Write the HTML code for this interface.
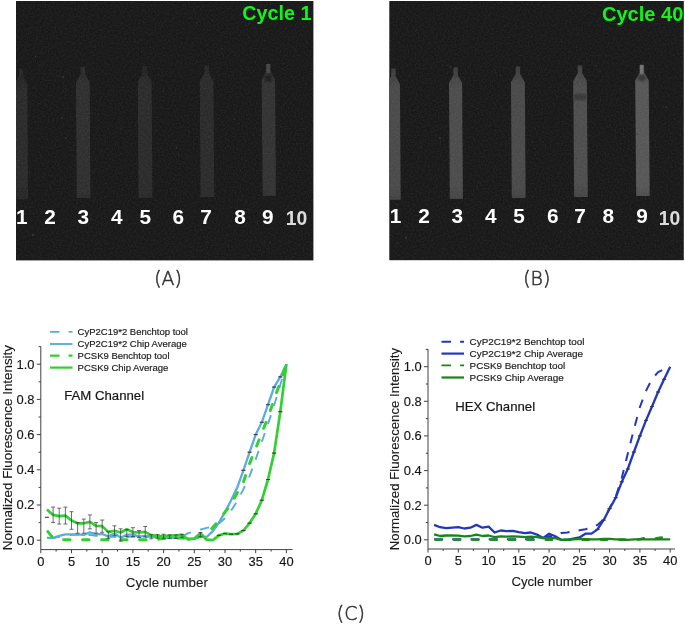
<!DOCTYPE html>
<html lang="en"><head><meta charset="utf-8"><title>Figure</title>
<style>
html,body{margin:0;padding:0;background:#fff;}
body{width:685px;height:625px;overflow:hidden;position:relative;font-family:"Liberation Sans",sans-serif;}
svg{position:absolute;left:0;top:0;display:block;}
text{font-family:"Liberation Sans",sans-serif;}
.num{font-weight:bold;font-size:20.8px;fill:#fff;}
.cyc{font-weight:bold;font-size:20.8px;fill:#12f41a;}
.cap{font-family:"DejaVu Sans Light","DejaVu Sans","Liberation Sans",sans-serif;font-weight:200;font-size:18.9px;fill:#333;stroke:#333;stroke-width:0.55px;stroke-linejoin:round;}
.tk{font-size:12.9px;fill:#161616;stroke:#161616;stroke-width:0.15px;}
.lg{fill:#1c1c1c;stroke:#1c1c1c;stroke-width:0.18px;}
.ax{fill:#1a1a1a;stroke:#1a1a1a;stroke-width:0.12px;}
.ch{font-size:13.2px;fill:#161616;stroke:#161616;stroke-width:0.2px;}
</style></head><body>
<svg width="685" height="625" viewBox="0 0 685 625">
<defs>
<filter id="b1" x="-20%" y="-5%" width="140%" height="110%"><feGaussianBlur stdDeviation="0.7"/></filter>
<filter id="b4" x="-20%" y="-50%" width="140%" height="200%"><feGaussianBlur stdDeviation="1.1"/></filter>
<filter id="nz" x="0" y="0" width="100%" height="100%"><feTurbulence type="fractalNoise" baseFrequency="0.6" numOctaves="2" seed="5"/><feColorMatrix type="matrix" values="0 0 0 0 1  0 0 0 0 1  0 0 0 0 1  0.085 0.085 0 0 -0.067"/><feGaussianBlur stdDeviation="0.4"/></filter>
<filter id="b2"><feGaussianBlur stdDeviation="0.45"/></filter>
<filter id="b3"><feGaussianBlur stdDeviation="0.35"/></filter>
</defs>
<g>
<rect x="16" y="1" width="297.4" height="259.4" fill="#181818"/>
<clipPath id="cp16"><rect x="16" y="1" width="297.4" height="259.4"/></clipPath>
<g clip-path="url(#cp16)">
<linearGradient id="tg1" gradientUnits="userSpaceOnUse" x1="0" y1="69" x2="0" y2="199.5"><stop offset="0" stop-color="#252525"/><stop offset="0.16" stop-color="#292929"/><stop offset="0.9" stop-color="#292929"/><stop offset="1" stop-color="#262626"/></linearGradient><polygon points="18.7,69.0 23.1,69.0 23.1,76.5 27.4,84.5 27.9,199.5 14.8,199.5 14.3,84.5 18.7,76.5" fill="url(#tg1)" filter="url(#b1)"/>
<linearGradient id="tg2" gradientUnits="userSpaceOnUse" x1="0" y1="66.8" x2="0" y2="198"><stop offset="0" stop-color="#292929"/><stop offset="0.16" stop-color="#2f2f2f"/><stop offset="0.9" stop-color="#2f2f2f"/><stop offset="1" stop-color="#2c2c2c"/></linearGradient><polygon points="80.6,66.8 85.0,66.8 85.0,74.3 89.6,82.3 90.4,198.0 76.8,198.0 76.0,82.3 80.6,74.3" fill="url(#tg2)" filter="url(#b1)"/>
<linearGradient id="tg3" gradientUnits="userSpaceOnUse" x1="0" y1="66.2" x2="0" y2="198"><stop offset="0" stop-color="#262626"/><stop offset="0.16" stop-color="#2b2b2b"/><stop offset="0.9" stop-color="#2b2b2b"/><stop offset="1" stop-color="#282828"/></linearGradient><polygon points="142.5,66.2 146.9,66.2 146.9,73.7 151.6,81.7 152.4,198.0 138.6,198.0 137.8,81.7 142.5,73.7" fill="url(#tg3)" filter="url(#b1)"/><ellipse cx="144.2" cy="72" rx="2.6" ry="2.4" fill="#222" filter="url(#b4)"/>
<linearGradient id="tg4" gradientUnits="userSpaceOnUse" x1="0" y1="65.5" x2="0" y2="197"><stop offset="0" stop-color="#272727"/><stop offset="0.16" stop-color="#2c2c2c"/><stop offset="0.9" stop-color="#2c2c2c"/><stop offset="1" stop-color="#292929"/></linearGradient><polygon points="204.4,65.5 208.8,65.5 208.8,73.0 213.3,81.0 214.2,197.0 200.7,197.0 199.8,81.0 204.4,73.0" fill="url(#tg4)" filter="url(#b1)"/>
<linearGradient id="tg5" gradientUnits="userSpaceOnUse" x1="0" y1="64" x2="0" y2="196"><stop offset="0" stop-color="#2c2c2c"/><stop offset="0.16" stop-color="#333333"/><stop offset="0.9" stop-color="#333333"/><stop offset="1" stop-color="#2f2f2f"/></linearGradient><polygon points="266.2,64.0 270.6,64.0 270.6,71.5 275.0,79.5 276.0,196.0 262.7,196.0 261.7,79.5 266.2,71.5" fill="url(#tg5)" filter="url(#b1)"/><rect x="266.4" y="64" width="3.6" height="9" fill="#444" filter="url(#b1)"/><ellipse cx="268.4" cy="78.0" rx="3.7" ry="3.7" fill="#1b1b1b" filter="url(#b4)"/>
<rect x="16" y="1" width="297.4" height="259.4" filter="url(#nz)"/>
<circle cx="112.9" cy="42.7" r="0.7" fill="#2c2c2c"/>
<circle cx="39.2" cy="139.0" r="0.6" fill="#3a3a3a"/>
<circle cx="35.0" cy="131.9" r="0.5" fill="#2c2c2c"/>
<circle cx="145.1" cy="22.5" r="0.5" fill="#3a3a3a"/>
<circle cx="142.4" cy="211.7" r="0.5" fill="#2c2c2c"/>
<circle cx="202.8" cy="150.7" r="0.5" fill="#3a3a3a"/>
<circle cx="189.6" cy="17.4" r="0.5" fill="#2c2c2c"/>
<circle cx="181.1" cy="38.3" r="0.6" fill="#2c2c2c"/>
<circle cx="176.4" cy="147.7" r="0.7" fill="#3a3a3a"/>
<circle cx="71.0" cy="150.4" r="0.7" fill="#2c2c2c"/>
<circle cx="127.1" cy="141.9" r="0.5" fill="#3a3a3a"/>
<circle cx="35.5" cy="56.5" r="0.7" fill="#3a3a3a"/>
<circle cx="143.3" cy="83.5" r="0.7" fill="#333"/>
<circle cx="123.9" cy="67.1" r="0.5" fill="#3a3a3a"/>
<circle cx="246.5" cy="25.5" r="0.6" fill="#3a3a3a"/>
<circle cx="163.1" cy="90.9" r="0.6" fill="#333"/>
<circle cx="196.4" cy="23.3" r="0.7" fill="#333"/>
<circle cx="66.3" cy="90.5" r="0.6" fill="#333"/>
<circle cx="29.5" cy="172.1" r="0.7" fill="#3a3a3a"/>
<circle cx="249.2" cy="209.6" r="0.6" fill="#3a3a3a"/>
<circle cx="120.6" cy="129.2" r="0.6" fill="#2c2c2c"/>
<circle cx="264.1" cy="241.2" r="0.6" fill="#3a3a3a"/>
<circle cx="212.6" cy="20.2" r="0.7" fill="#333"/>
<circle cx="207.6" cy="253.3" r="0.6" fill="#333"/>
<circle cx="228.0" cy="226.8" r="0.6" fill="#2c2c2c"/>
<circle cx="293.6" cy="93.9" r="0.7" fill="#2c2c2c"/>
<circle cx="162.7" cy="59.6" r="0.6" fill="#2c2c2c"/>
<circle cx="234.3" cy="104.5" r="0.6" fill="#2c2c2c"/>
<circle cx="66.7" cy="105.4" r="0.6" fill="#2c2c2c"/>
<circle cx="258.0" cy="221.0" r="0.6" fill="#3a3a3a"/>
<circle cx="139.7" cy="94.7" r="0.6" fill="#2c2c2c"/>
<circle cx="62.2" cy="49.1" r="0.5" fill="#3a3a3a"/>
<circle cx="86.4" cy="126.2" r="0.7" fill="#2c2c2c"/>
<circle cx="95.0" cy="6.0" r="0.6" fill="#3a3a3a"/>
<circle cx="126.2" cy="146.6" r="0.5" fill="#3a3a3a"/>
<circle cx="269.7" cy="242.6" r="0.7" fill="#3a3a3a"/>
<circle cx="234.8" cy="119.2" r="0.7" fill="#3a3a3a"/>
<circle cx="133.0" cy="104.7" r="0.5" fill="#333"/>
<circle cx="203.8" cy="20.6" r="0.5" fill="#2c2c2c"/>
<circle cx="147.1" cy="32.5" r="0.7" fill="#2c2c2c"/>
<circle cx="63.0" cy="77.0" r="0.8" fill="#444"/>
<circle cx="60.0" cy="76.5" r="0.6" fill="#3a3a3a"/>
<circle cx="57.0" cy="76.0" r="0.6" fill="#383838"/>
<circle cx="40.0" cy="65.0" r="0.6" fill="#3a3a3a"/>
<circle cx="62.0" cy="118.0" r="0.7" fill="#484848"/>
<circle cx="33.0" cy="235.0" r="0.8" fill="#555"/>
<circle cx="66.0" cy="138.0" r="0.7" fill="#444"/>
<circle cx="92.0" cy="113.0" r="0.6" fill="#444"/>
<circle cx="156.0" cy="130.0" r="0.6" fill="#3c3c3c"/>
</g>
<text class="num" x="21.8" y="224" text-anchor="middle">1</text>
<text class="num" x="50" y="224" text-anchor="middle">2</text>
<text class="num" x="83.3" y="224" text-anchor="middle">3</text>
<text class="num" x="116.8" y="224" text-anchor="middle">4</text>
<text class="num" x="145.2" y="224" text-anchor="middle">5</text>
<text class="num" x="178.3" y="224" text-anchor="middle">6</text>
<text class="num" x="206" y="224" text-anchor="middle">7</text>
<text class="num" x="240" y="224" text-anchor="middle">8</text>
<text class="num" x="267.8" y="224" text-anchor="middle">9</text>
<text class="num" x="296.6" y="224.8" text-anchor="middle" style="fill:#dcdcdc" textLength="21.5" lengthAdjust="spacingAndGlyphs">10</text>
<text class="cyc" transform="translate(311.5,19.6) scale(0.95,1)" text-anchor="end">Cycle 1</text>
</g>
<g>
<rect x="389.3" y="1" width="294.49999999999994" height="259.2" fill="#181818"/>
<clipPath id="cp389"><rect x="389.3" y="1" width="294.49999999999994" height="259.2"/></clipPath>
<g clip-path="url(#cp389)">
<linearGradient id="tg6" gradientUnits="userSpaceOnUse" x1="0" y1="68.5" x2="0" y2="199.7"><stop offset="0" stop-color="#3c3c3c"/><stop offset="0.16" stop-color="#494949"/><stop offset="0.9" stop-color="#494949"/><stop offset="1" stop-color="#424242"/></linearGradient><polygon points="391.2,68.5 395.6,68.5 395.6,76.0 399.9,84.0 400.7,199.7 387.6,199.7 386.8,84.0 391.2,76.0" fill="url(#tg6)" filter="url(#b1)"/>
<linearGradient id="tg7" gradientUnits="userSpaceOnUse" x1="0" y1="67.5" x2="0" y2="199"><stop offset="0" stop-color="#3d3d3d"/><stop offset="0.16" stop-color="#4b4b4b"/><stop offset="0.9" stop-color="#4b4b4b"/><stop offset="1" stop-color="#434343"/></linearGradient><polygon points="453.4,67.5 457.8,67.5 457.8,75.0 462.1,83.0 462.9,199.0 449.8,199.0 449.0,83.0 453.4,75.0" fill="url(#tg7)" filter="url(#b1)"/>
<linearGradient id="tg8" gradientUnits="userSpaceOnUse" x1="0" y1="66.5" x2="0" y2="198"><stop offset="0" stop-color="#3c3c3c"/><stop offset="0.16" stop-color="#4a4a4a"/><stop offset="0.9" stop-color="#4a4a4a"/><stop offset="1" stop-color="#424242"/></linearGradient><polygon points="515.7,66.5 520.1,66.5 520.1,74.0 524.8,82.0 525.6,198.0 511.8,198.0 511.0,82.0 515.7,74.0" fill="url(#tg8)" filter="url(#b1)"/>
<linearGradient id="tg9" gradientUnits="userSpaceOnUse" x1="0" y1="65.5" x2="0" y2="197"><stop offset="0" stop-color="#3f3f3f"/><stop offset="0.16" stop-color="#4d4d4d"/><stop offset="0.9" stop-color="#4d4d4d"/><stop offset="1" stop-color="#454545"/></linearGradient><polygon points="577.8,65.5 582.2,65.5 582.2,73.0 586.8,81.0 587.8,197.0 574.2,197.0 573.2,81.0 577.8,73.0" fill="url(#tg9)" filter="url(#b1)"/><rect x="574" y="94.2" width="12.6" height="5.6" fill="#363636" filter="url(#b4)"/>
<linearGradient id="tg10" gradientUnits="userSpaceOnUse" x1="0" y1="65" x2="0" y2="196"><stop offset="0" stop-color="#464646"/><stop offset="0.16" stop-color="#575757"/><stop offset="0.9" stop-color="#575757"/><stop offset="1" stop-color="#4e4e4e"/></linearGradient><polygon points="639.8,65.0 644.2,65.0 644.2,72.5 648.7,80.5 649.7,196.0 636.2,196.0 635.2,80.5 639.8,72.5" fill="url(#tg10)" filter="url(#b1)"/><rect x="639.8" y="64.8" width="3.6" height="9.5" fill="#727272" filter="url(#b1)"/><ellipse cx="641.9" cy="78" rx="3.5" ry="3.3" fill="#363636" filter="url(#b4)"/>
<rect x="389.3" y="1" width="294.49999999999994" height="259.2" filter="url(#nz)"/>
<circle cx="420.8" cy="146.7" r="0.7" fill="#2c2c2c"/>
<circle cx="667.1" cy="158.4" r="0.5" fill="#2c2c2c"/>
<circle cx="569.7" cy="42.1" r="0.6" fill="#333"/>
<circle cx="566.3" cy="123.5" r="0.5" fill="#333"/>
<circle cx="680.0" cy="121.5" r="0.6" fill="#333"/>
<circle cx="416.0" cy="30.5" r="0.6" fill="#3a3a3a"/>
<circle cx="468.0" cy="212.2" r="0.5" fill="#3a3a3a"/>
<circle cx="397.7" cy="242.7" r="0.7" fill="#333"/>
<circle cx="433.7" cy="140.8" r="0.5" fill="#3a3a3a"/>
<circle cx="477.7" cy="165.7" r="0.5" fill="#3a3a3a"/>
<circle cx="637.0" cy="134.6" r="0.5" fill="#333"/>
<circle cx="615.6" cy="138.1" r="0.7" fill="#333"/>
<circle cx="576.2" cy="158.3" r="0.5" fill="#2c2c2c"/>
<circle cx="629.1" cy="190.0" r="0.5" fill="#2c2c2c"/>
<circle cx="541.6" cy="93.9" r="0.5" fill="#2c2c2c"/>
<circle cx="620.9" cy="123.1" r="0.5" fill="#3a3a3a"/>
<circle cx="567.1" cy="91.1" r="0.7" fill="#333"/>
<circle cx="668.9" cy="96.2" r="0.5" fill="#2c2c2c"/>
<circle cx="457.0" cy="54.2" r="0.5" fill="#333"/>
<circle cx="572.6" cy="230.1" r="0.5" fill="#333"/>
<circle cx="655.6" cy="91.0" r="0.7" fill="#2c2c2c"/>
<circle cx="633.9" cy="35.0" r="0.6" fill="#3a3a3a"/>
<circle cx="609.3" cy="124.5" r="0.5" fill="#333"/>
<circle cx="620.6" cy="88.1" r="0.7" fill="#333"/>
<circle cx="525.8" cy="190.8" r="0.5" fill="#3a3a3a"/>
<circle cx="437.2" cy="253.3" r="0.5" fill="#2c2c2c"/>
<circle cx="562.9" cy="121.3" r="0.7" fill="#2c2c2c"/>
<circle cx="569.0" cy="154.0" r="0.6" fill="#3a3a3a"/>
<circle cx="663.8" cy="44.0" r="0.7" fill="#2c2c2c"/>
<circle cx="397.2" cy="204.8" r="0.7" fill="#3a3a3a"/>
<circle cx="420.9" cy="192.4" r="0.5" fill="#333"/>
<circle cx="678.1" cy="53.7" r="0.5" fill="#2c2c2c"/>
<circle cx="464.3" cy="78.2" r="0.5" fill="#3a3a3a"/>
<circle cx="485.9" cy="141.1" r="0.5" fill="#2c2c2c"/>
<circle cx="655.8" cy="93.4" r="0.6" fill="#3a3a3a"/>
<circle cx="560.8" cy="231.1" r="0.6" fill="#3a3a3a"/>
<circle cx="429.1" cy="43.0" r="0.7" fill="#2c2c2c"/>
<circle cx="645.0" cy="199.1" r="0.7" fill="#2c2c2c"/>
<circle cx="616.8" cy="42.5" r="0.5" fill="#333"/>
<circle cx="571.2" cy="35.1" r="0.5" fill="#333"/>
<circle cx="450.5" cy="67.0" r="0.8" fill="#484848"/>
<circle cx="447.0" cy="65.0" r="0.6" fill="#3c3c3c"/>
<circle cx="440.0" cy="138.0" r="0.8" fill="#4a4a4a"/>
<circle cx="406.0" cy="238.0" r="0.8" fill="#505050"/>
<circle cx="596.0" cy="66.0" r="0.6" fill="#444"/>
<circle cx="600.0" cy="71.0" r="0.6" fill="#444"/>
<circle cx="666.0" cy="107.0" r="0.7" fill="#444"/>
</g>
<text class="num" x="395.5" y="223.4" text-anchor="middle">1</text>
<text class="num" x="424" y="223.4" text-anchor="middle">2</text>
<text class="num" x="457.3" y="223.4" text-anchor="middle">3</text>
<text class="num" x="490.8" y="223.4" text-anchor="middle">4</text>
<text class="num" x="519" y="223.4" text-anchor="middle">5</text>
<text class="num" x="552.8" y="223.4" text-anchor="middle">6</text>
<text class="num" x="580" y="223.4" text-anchor="middle">7</text>
<text class="num" x="608.4" y="223.4" text-anchor="middle">8</text>
<text class="num" x="642" y="223.4" text-anchor="middle">9</text>
<text class="num" x="669.5" y="224.8" text-anchor="middle" style="fill:#dcdcdc" textLength="21.5" lengthAdjust="spacingAndGlyphs">10</text>
<text class="cyc" transform="translate(683.3,21.4) scale(0.965,1)" text-anchor="end">Cycle 40</text>
</g>
<text class="cap" x="168" y="284.7" text-anchor="middle">(A)</text>
<text class="cap" x="536.8" y="284.7" text-anchor="middle">(B)</text>
<text class="cap" x="350.8" y="619.9" text-anchor="middle">(C)</text>
<g>
<g filter="url(#b3)">
<polyline points="46.9,538.1 53.1,538.1 59.2,536.7 65.4,535.8 71.5,534.9 77.6,534.9 83.8,535.3 89.9,534.9 96.1,535.8 102.2,535.8 108.3,536.7 114.5,536.7 120.6,536.7 126.8,536.7 132.9,536.7 139.0,536.7 145.2,536.7 151.3,536.7 157.5,537.0 163.6,537.6 169.7,538.1 175.9,537.6 182.0,536.7 188.2,533.2 194.3,531.4 200.4,529.6 206.6,527.9 212.7,526.6 218.9,523.5 225.0,518.2 231.1,510.6 237.3,501.0 243.4,489.2 249.6,476.1 255.7,459.2 261.8,441.6 268.0,424.0 274.1,405.6 280.3,384.8 286.4,364.2" fill="none" stroke="#5aabde" stroke-width="1.9" stroke-linejoin="round" stroke-dasharray="9.3 9.6" stroke-dashoffset="-4"/>
<polyline points="46.9,537.9 53.1,537.9 59.2,535.8 65.4,534.4 71.5,534.4 77.6,534.4 83.8,534.9 89.9,532.3 96.1,534.4 102.2,534.0 108.3,536.3 114.5,533.5 120.6,537.6 126.8,534.9 132.9,534.4 139.0,536.7 145.2,535.8 151.3,536.7 157.5,537.6 163.6,537.0 169.7,538.1 175.9,537.6 182.0,538.1 188.2,538.4 194.3,538.8 200.4,536.7 206.6,537.0 212.7,531.4 218.9,522.6 225.0,512.2 231.1,500.2 237.3,487.4 243.4,470.3 249.6,452.2 255.7,434.6 261.8,422.3 268.0,404.7 274.1,387.1 280.3,376.9 286.4,364.2" fill="none" stroke="#5aabde" stroke-width="2.3" stroke-linejoin="round"/>
<polyline points="46.9,530.5 53.1,538.1 59.2,539.5 65.4,539.7 71.5,539.7 77.6,539.7 83.8,539.7 89.9,539.7 96.1,539.7 102.2,539.7 108.3,539.7 114.5,539.7 120.6,539.7 126.8,539.7 132.9,539.7 139.0,539.7 145.2,539.7 151.3,539.8 157.5,539.3 163.6,538.4 169.7,538.1 175.9,538.1 182.0,538.1 188.2,538.1 194.3,537.6 200.4,536.7 206.6,535.8 212.7,527.4 218.9,520.5 225.0,512.2 231.1,503.8 237.3,492.7 243.4,482.1 249.6,463.5 255.7,448.5 261.8,432.8 268.0,417.5 274.1,399.4 280.3,382.3 286.4,364.2" fill="none" stroke="#30d030" stroke-width="3.0" stroke-linejoin="round" stroke-dasharray="6.4 12.6" stroke-linecap="round" stroke-dashoffset="-1.5"/>
<polyline points="46.9,509.4 53.1,514.9 59.2,516.1 65.4,515.6 71.5,520.5 77.6,523.3 83.8,523.3 89.9,521.9 96.1,525.9 102.2,526.1 108.3,532.1 114.5,530.7 120.6,532.5 126.8,529.3 132.9,532.1 139.0,532.5 145.2,531.8 151.3,535.4 157.5,535.8 163.6,536.0 169.7,535.6 175.9,535.4 182.0,534.9 188.2,539.5 194.3,538.6 200.4,533.2 206.6,539.7 212.7,540.2 218.9,535.4 225.0,533.5 231.1,534.2 237.3,533.9 243.4,530.5 249.6,523.1 255.7,513.8 261.8,500.2 268.0,479.5 274.1,453.1 280.3,411.7 286.4,364.2" fill="none" stroke="#30d030" stroke-width="2.7" stroke-linejoin="round"/>
<path d="M46.9 517.3V517.3M44.9 517.3H48.9M44.9 517.3H48.9" stroke="#333" stroke-width="0.7" fill="none"/>
<path d="M53.1 507.1V522.6M51.1 507.1H55.1M51.1 522.6H55.1" stroke="#333" stroke-width="0.7" fill="none"/>
<path d="M59.2 508.2V524.0M57.2 508.2H61.2M57.2 524.0H61.2" stroke="#333" stroke-width="0.7" fill="none"/>
<path d="M65.4 507.1V524.0M63.4 507.1H67.4M63.4 524.0H67.4" stroke="#333" stroke-width="0.7" fill="none"/>
<path d="M71.5 511.7V529.3M69.5 511.7H73.5M69.5 529.3H73.5" stroke="#333" stroke-width="0.7" fill="none"/>
<path d="M77.6 522.6V533.2M75.6 522.6H79.6M75.6 533.2H79.6" stroke="#333" stroke-width="0.7" fill="none"/>
<path d="M83.8 519.1V533.2M81.8 519.1H85.8M81.8 533.2H85.8" stroke="#333" stroke-width="0.7" fill="none"/>
<path d="M89.9 514.9V528.9M87.9 514.9H91.9M87.9 528.9H91.9" stroke="#333" stroke-width="0.7" fill="none"/>
<path d="M96.1 522.6V533.2M94.1 522.6H98.1M94.1 533.2H98.1" stroke="#333" stroke-width="0.7" fill="none"/>
<path d="M102.2 520.0V532.3M100.2 520.0H104.2M100.2 532.3H104.2" stroke="#333" stroke-width="0.7" fill="none"/>
<path d="M108.3 531.4V538.4M106.3 531.4H110.3M106.3 538.4H110.3" stroke="#333" stroke-width="0.7" fill="none"/>
<path d="M114.5 525.8V535.6M112.5 525.8H116.5M112.5 535.6H116.5" stroke="#333" stroke-width="0.7" fill="none"/>
<path d="M120.6 528.8V541.1M118.6 528.8H122.6M118.6 541.1H122.6" stroke="#333" stroke-width="0.7" fill="none"/>
<path d="M126.8 529.6V536.7M124.8 529.6H128.8M124.8 536.7H128.8" stroke="#333" stroke-width="0.7" fill="none"/>
<path d="M132.9 527.7V536.5M130.9 527.7H134.9M130.9 536.5H134.9" stroke="#333" stroke-width="0.7" fill="none"/>
<path d="M139.0 530.5V537.6M137.0 530.5H141.0M137.0 537.6H141.0" stroke="#333" stroke-width="0.7" fill="none"/>
<path d="M145.2 526.5V537.0M143.2 526.5H147.2M143.2 537.0H147.2" stroke="#333" stroke-width="0.7" fill="none"/>
<path d="M151.3 534.6V538.8M149.3 534.6H153.3M149.3 538.8H153.3" stroke="#333" stroke-width="0.7" fill="none"/>
<path d="M157.5 534.6V538.1M155.5 534.6H159.5M155.5 538.1H159.5" stroke="#333" stroke-width="0.7" fill="none"/>
<path d="M163.6 534.2V538.4M161.6 534.2H165.6M161.6 538.4H165.6" stroke="#333" stroke-width="0.7" fill="none"/>
<path d="M169.7 534.9V538.4M167.7 534.9H171.7M167.7 538.4H171.7" stroke="#333" stroke-width="0.7" fill="none"/>
<path d="M175.9 534.9V538.4M173.9 534.9H177.9M173.9 538.4H177.9" stroke="#333" stroke-width="0.7" fill="none"/>
<path d="M182.0 534.4V537.2M180.0 534.4H184.0M180.0 537.2H184.0" stroke="#333" stroke-width="0.7" fill="none"/>
<path d="M200.4 532.5V536.7M198.4 532.5H202.4M198.4 536.7H202.4" stroke="#333" stroke-width="0.7" fill="none"/>
<path d="M218.9 535.4V535.4M216.9 535.4H220.9M216.9 535.4H220.9" stroke="#333" stroke-width="0.7" fill="none"/>
<path d="M225.0 533.5V533.5M223.0 533.5H227.0M223.0 533.5H227.0" stroke="#333" stroke-width="0.7" fill="none"/>
<path d="M231.1 534.2V534.2M229.1 534.2H233.1M229.1 534.2H233.1" stroke="#333" stroke-width="0.7" fill="none"/>
<path d="M237.3 533.9V533.9M235.3 533.9H239.3M235.3 533.9H239.3" stroke="#333" stroke-width="0.7" fill="none"/>
<path d="M243.4 530.5V530.5M241.4 530.5H245.4M241.4 530.5H245.4" stroke="#333" stroke-width="0.7" fill="none"/>
<path d="M249.6 523.1V523.1M247.6 523.1H251.6M247.6 523.1H251.6" stroke="#333" stroke-width="0.7" fill="none"/>
<path d="M255.7 513.8V513.8M253.7 513.8H257.7M253.7 513.8H257.7" stroke="#333" stroke-width="0.7" fill="none"/>
<path d="M261.8 500.2V500.2M259.8 500.2H263.8M259.8 500.2H263.8" stroke="#333" stroke-width="0.7" fill="none"/>
<path d="M268.0 479.5V479.5M266.0 479.5H270.0M266.0 479.5H270.0" stroke="#333" stroke-width="0.7" fill="none"/>
<path d="M274.1 453.1V453.1M272.1 453.1H276.1M272.1 453.1H276.1" stroke="#333" stroke-width="0.7" fill="none"/>
<path d="M280.3 411.7V411.7M278.3 411.7H282.3M278.3 411.7H282.3" stroke="#333" stroke-width="0.7" fill="none"/>
<path d="M243.4 470.3V470.3M241.4 470.3H245.4M241.4 470.3H245.4" stroke="#333" stroke-width="0.7" fill="none"/>
<path d="M249.6 452.2V452.2M247.6 452.2H251.6M247.6 452.2H251.6" stroke="#333" stroke-width="0.7" fill="none"/>
<path d="M255.7 434.6V434.6M253.7 434.6H257.7M253.7 434.6H257.7" stroke="#333" stroke-width="0.7" fill="none"/>
<path d="M261.8 422.3V422.3M259.8 422.3H263.8M259.8 422.3H263.8" stroke="#333" stroke-width="0.7" fill="none"/>
<path d="M268.0 404.7V404.7M266.0 404.7H270.0M266.0 404.7H270.0" stroke="#333" stroke-width="0.7" fill="none"/>
<path d="M274.1 387.1V387.1M272.1 387.1H276.1M272.1 387.1H276.1" stroke="#333" stroke-width="0.7" fill="none"/>
<path d="M280.3 376.9V376.9M278.3 376.9H282.3M278.3 376.9H282.3" stroke="#333" stroke-width="0.7" fill="none"/>
</g>
<path d="M40.8 346.5V549.6H292.5M36.8 540.2H40.8M36.8 505.0H40.8M36.8 469.8H40.8M36.8 434.6H40.8M36.8 399.4H40.8M36.8 364.2H40.8M38.6 522.6H40.8M38.6 487.4H40.8M38.6 452.2H40.8M38.6 417.0H40.8M38.6 381.8H40.8M38.6 346.6H40.8M40.8 549.6V553.2M71.5 549.6V553.2M102.2 549.6V553.2M132.9 549.6V553.2M163.6 549.6V553.2M194.3 549.6V553.2M225.0 549.6V553.2M255.7 549.6V553.2M286.4 549.6V553.2M56.1 549.6V551.6M86.8 549.6V551.6M117.5 549.6V551.6M148.2 549.6V551.6M178.9 549.6V551.6M209.6 549.6V551.6M240.3 549.6V551.6M271.1 549.6V551.6" stroke="#404040" stroke-width="1" fill="none"/>
<text class="tk" x="34.5" y="544.5" text-anchor="end">0.0</text>
<text class="tk" x="34.5" y="509.3" text-anchor="end">0.2</text>
<text class="tk" x="34.5" y="474.1" text-anchor="end">0.4</text>
<text class="tk" x="34.5" y="438.9" text-anchor="end">0.6</text>
<text class="tk" x="34.5" y="403.7" text-anchor="end">0.8</text>
<text class="tk" x="34.5" y="368.5" text-anchor="end">1.0</text>
<text class="tk" x="40.8" y="565.9" text-anchor="middle">0</text>
<text class="tk" x="71.5" y="565.9" text-anchor="middle">5</text>
<text class="tk" x="102.2" y="565.9" text-anchor="middle">10</text>
<text class="tk" x="132.9" y="565.9" text-anchor="middle">15</text>
<text class="tk" x="163.6" y="565.9" text-anchor="middle">20</text>
<text class="tk" x="194.3" y="565.9" text-anchor="middle">25</text>
<text class="tk" x="225.0" y="565.9" text-anchor="middle">30</text>
<text class="tk" x="255.7" y="565.9" text-anchor="middle">35</text>
<text class="tk" x="286.4" y="565.9" text-anchor="middle">40</text>
<text class="ax" font-size="13.3" x="166.8" y="586.8" text-anchor="middle">Cycle number</text>
<text class="ax" font-size="13.4" transform="translate(11.7,550.2) rotate(-90)" textLength="205.2" lengthAdjust="spacingAndGlyphs">Normalized Fluorescence Intensity</text>
<text class="ch" x="64.2" y="400.1">FAM Channel</text>
<path d="M50 331.9H72.5" stroke="#5aabde" stroke-width="1.9" stroke-dasharray="9.5 9.1" fill="none"/>
<text class="lg" font-size="9.5" x="77.6" y="335.2">CyP2C19*2 Benchtop tool</text>
<path d="M50 344.0H72.5" stroke="#5aabde" stroke-width="1.9" fill="none"/>
<text class="lg" font-size="9.5" x="77.6" y="347.3">CyP2C19*2 Chip Average</text>
<path d="M50 355.6H72.5" stroke="#30d030" stroke-width="2.2" stroke-dasharray="9.5 9.1" fill="none"/>
<text class="lg" font-size="9.5" x="77.6" y="358.9">PCSK9 Benchtop tool</text>
<path d="M50 367.6H72.5" stroke="#30d030" stroke-width="2.2" fill="none"/>
<text class="lg" font-size="9.5" x="77.6" y="370.9">PCSK9 Chip Average</text>
</g>
<g>
<g filter="url(#b3)">
<polyline points="434.1,539.3 440.1,539.3 446.2,539.3 452.2,539.3 458.3,539.3 464.3,539.3 470.4,539.3 476.4,539.3 482.5,539.3 488.6,539.3 494.6,539.3 500.7,539.3 506.7,539.3 512.8,539.3 518.8,539.3 524.9,539.3 530.9,539.3 537.0,538.9 543.0,538.1 549.1,536.3 555.2,535.5 561.2,533.0 567.3,532.4 573.3,531.4 579.4,530.3 585.4,529.2 591.5,527.9 597.5,525.0 603.6,519.4 609.6,508.2 615.7,497.0 621.8,477.8 627.8,453.6 633.9,429.4 639.9,407.0 646.0,390.9 652.0,379.0 658.1,372.1 664.1,369.1 670.2,366.7" fill="none" stroke="#2238bc" stroke-width="2.0" stroke-linejoin="round" stroke-dasharray="9 9.2"/>
<polyline points="434.1,524.9 440.1,527.2 446.2,528.2 452.2,527.7 458.3,527.2 464.3,528.5 470.4,527.7 476.4,524.9 482.5,527.7 488.6,526.6 494.6,532.5 500.7,530.5 506.7,531.1 512.8,530.8 518.8,532.2 524.9,533.2 530.9,532.5 537.0,534.6 543.0,538.1 549.1,533.7 555.2,536.3 561.2,539.8 567.3,539.8 573.3,538.6 579.4,537.5 585.4,533.7 591.5,533.6 597.5,529.4 603.6,520.2 609.6,508.6 615.7,497.7 621.8,481.8 627.8,469.0 633.9,452.0 639.9,435.9 646.0,420.4 652.0,406.5 658.1,392.0 664.1,379.3 670.2,366.7" fill="none" stroke="#2238bc" stroke-width="2.3" stroke-linejoin="round"/>
<polyline points="434.1,539.8 440.1,539.8 446.2,539.8 452.2,539.8 458.3,539.8 464.3,539.8 470.4,539.8 476.4,539.8 482.5,539.8 488.6,539.8 494.6,539.8 500.7,539.8 506.7,539.8 512.8,539.8 518.8,539.8 524.9,539.8 530.9,539.8 537.0,539.8 543.0,539.8 549.1,539.8 555.2,539.8 561.2,539.8 567.3,539.8 573.3,539.8 579.4,539.8 585.4,539.8 591.5,539.8 597.5,539.8 603.6,539.8 609.6,539.8 615.7,539.8 621.8,539.8 627.8,539.8 633.9,539.8 639.9,539.3 646.0,537.7 652.0,539.3 658.1,538.1 664.1,537.2 670.2,539.3" fill="none" stroke="#209028" stroke-width="2.6" stroke-linejoin="round" stroke-dasharray="6.2 12.2" stroke-linecap="round" stroke-dashoffset="-1.3"/>
<polyline points="434.1,534.3 440.1,536.0 446.2,535.5 452.2,535.5 458.3,535.6 464.3,536.3 470.4,536.0 476.4,534.6 482.5,536.0 488.6,535.5 494.6,537.2 500.7,536.3 506.7,536.7 512.8,536.3 518.8,536.7 524.9,537.2 530.9,536.7 537.0,537.2 543.0,538.1 549.1,538.1 555.2,538.1 561.2,539.8 567.3,539.8 573.3,539.3 579.4,538.9 585.4,539.1 591.5,539.3 597.5,539.3 603.6,538.9 609.6,538.8 615.7,539.3 621.8,539.3 627.8,539.8 633.9,539.3 639.9,539.3 646.0,539.3 652.0,539.3 658.1,539.3 664.1,539.3 670.2,539.3" fill="none" stroke="#178617" stroke-width="2.3" stroke-linejoin="round"/>
<path d="M597.5 529.4V529.4M595.5 529.4H599.5M595.5 529.4H599.5" stroke="#333" stroke-width="0.7" fill="none"/>
<path d="M603.6 520.2V520.2M601.6 520.2H605.6M601.6 520.2H605.6" stroke="#333" stroke-width="0.7" fill="none"/>
<path d="M609.6 508.6V508.6M607.6 508.6H611.6M607.6 508.6H611.6" stroke="#333" stroke-width="0.7" fill="none"/>
<path d="M615.7 497.7V497.7M613.7 497.7H617.7M613.7 497.7H617.7" stroke="#333" stroke-width="0.7" fill="none"/>
<path d="M621.8 481.8V481.8M619.8 481.8H623.8M619.8 481.8H623.8" stroke="#333" stroke-width="0.7" fill="none"/>
<path d="M627.8 469.0V469.0M625.8 469.0H629.8M625.8 469.0H629.8" stroke="#333" stroke-width="0.7" fill="none"/>
<path d="M633.9 452.0V452.0M631.9 452.0H635.9M631.9 452.0H635.9" stroke="#333" stroke-width="0.7" fill="none"/>
<path d="M639.9 435.9V435.9M637.9 435.9H641.9M637.9 435.9H641.9" stroke="#333" stroke-width="0.7" fill="none"/>
<path d="M646.0 420.4V420.4M644.0 420.4H648.0M644.0 420.4H648.0" stroke="#333" stroke-width="0.7" fill="none"/>
<path d="M652.0 406.5V406.5M650.0 406.5H654.0M650.0 406.5H654.0" stroke="#333" stroke-width="0.7" fill="none"/>
<path d="M658.1 392.0V392.0M656.1 392.0H660.1M656.1 392.0H660.1" stroke="#333" stroke-width="0.7" fill="none"/>
<path d="M664.1 379.3V379.3M662.1 379.3H666.1M662.1 379.3H666.1" stroke="#333" stroke-width="0.7" fill="none"/>
</g>
<path d="M428.0 349.0V549.0H675.0M424.0 539.8H428.0M424.0 505.2H428.0M424.0 470.6H428.0M424.0 435.9H428.0M424.0 401.3H428.0M424.0 366.7H428.0M425.8 522.5H428.0M425.8 487.9H428.0M425.8 453.2H428.0M425.8 418.6H428.0M425.8 384.0H428.0M425.8 349.4H428.0M428.0 549.0V552.6M458.3 549.0V552.6M488.6 549.0V552.6M518.8 549.0V552.6M549.1 549.0V552.6M579.4 549.0V552.6M609.6 549.0V552.6M639.9 549.0V552.6M670.2 549.0V552.6M443.1 549.0V551.0M473.4 549.0V551.0M503.7 549.0V551.0M534.0 549.0V551.0M564.2 549.0V551.0M594.5 549.0V551.0M624.8 549.0V551.0M655.1 549.0V551.0" stroke="#404040" stroke-width="1" fill="none"/>
<text class="tk" x="421.7" y="544.1" text-anchor="end">0.0</text>
<text class="tk" x="421.7" y="509.5" text-anchor="end">0.2</text>
<text class="tk" x="421.7" y="474.9" text-anchor="end">0.4</text>
<text class="tk" x="421.7" y="440.2" text-anchor="end">0.6</text>
<text class="tk" x="421.7" y="405.6" text-anchor="end">0.8</text>
<text class="tk" x="421.7" y="371.0" text-anchor="end">1.0</text>
<text class="tk" x="428.0" y="565.3" text-anchor="middle">0</text>
<text class="tk" x="458.3" y="565.3" text-anchor="middle">5</text>
<text class="tk" x="488.6" y="565.3" text-anchor="middle">10</text>
<text class="tk" x="518.8" y="565.3" text-anchor="middle">15</text>
<text class="tk" x="549.1" y="565.3" text-anchor="middle">20</text>
<text class="tk" x="579.4" y="565.3" text-anchor="middle">25</text>
<text class="tk" x="609.6" y="565.3" text-anchor="middle">30</text>
<text class="tk" x="639.9" y="565.3" text-anchor="middle">35</text>
<text class="tk" x="670.2" y="565.3" text-anchor="middle">40</text>
<text class="ax" font-size="13.2" x="552.1" y="586.2" text-anchor="middle">Cycle number</text>
<text class="ax" font-size="13.2" transform="translate(399.0,550.2) rotate(-90)" textLength="202.3" lengthAdjust="spacingAndGlyphs">Normalized Fluorescence Intensity</text>
<text class="ch" x="455.2" y="411.4">HEX Channel</text>
<path d="M441.5 341.8H464" stroke="#2238bc" stroke-width="1.9" stroke-dasharray="9.5 9.1" fill="none"/>
<text class="lg" font-size="9.9" x="469.6" y="345.1">CyP2C19*2 Benchtop tool</text>
<path d="M441.5 353.6H464" stroke="#2238bc" stroke-width="2.2" fill="none"/>
<text class="lg" font-size="9.9" x="469.6" y="356.9">CyP2C19*2 Chip Average</text>
<path d="M441.5 365.4H464" stroke="#178617" stroke-width="1.9" stroke-dasharray="9.5 9.1" fill="none"/>
<text class="lg" font-size="9.9" x="469.6" y="368.7">PCSK9 Benchtop tool</text>
<path d="M441.5 377.5H464" stroke="#178617" stroke-width="2.2" fill="none"/>
<text class="lg" font-size="9.9" x="469.6" y="380.8">PCSK9 Chip Average</text>
</g>
</svg></body></html>
